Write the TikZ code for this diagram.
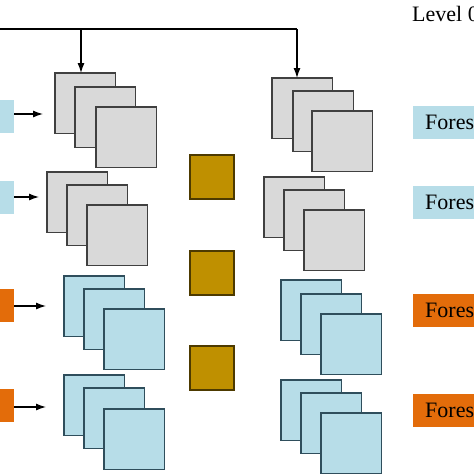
\documentclass[tikz,border=0pt]{standalone}
\usepackage{fontspec}
\setmainfont{Liberation Serif}
\usetikzlibrary{arrows.meta}
\definecolor{sqgray}{HTML}{D9D9D9}
\definecolor{sqgrayline}{HTML}{404040}
\definecolor{sqblue}{HTML}{B7DDE8}
\definecolor{sqblueline}{HTML}{2F4E5C}
\definecolor{sqgold}{HTML}{BF9000}
\definecolor{sqgoldline}{HTML}{4D3A00}
\definecolor{taborange}{HTML}{E36C0A}
\tikzset{
  sqbase/.style={rectangle, anchor=north west, inner sep=0pt, outer sep=0pt, minimum width=60.5pt, minimum height=60.5pt, line width=1.4pt},
  graysq/.style={sqbase, fill=sqgray, draw=sqgrayline},
  bluesq/.style={sqbase, fill=sqblue, draw=sqblueline},
  goldsq/.style={rectangle, anchor=north west, inner sep=0pt, outer sep=0pt, minimum width=44pt, minimum height=44pt, line width=1.4pt, fill=sqgold, draw=sqgoldline},
  tabbox/.style={rectangle, anchor=north west, inner sep=0pt, outer sep=0pt, minimum height=33pt},
  tabtext/.style={anchor=west, inner sep=0pt, font=\fontsize{22pt}{24pt}\selectfont},
  conn/.style={line width=1.2pt, black},
  arr/.style={conn, -{Latex[length=10pt,width=7pt]}}
}
\begin{document}
\begin{tikzpicture}[x=1pt,y=-1pt]
\useasboundingbox (0,0) rectangle (474,474);
\clip (0,0) rectangle (474,474);
% title
\node[anchor=south west, inner sep=0pt, font=\fontsize{22pt}{24pt}\selectfont] (title) at (412,21.5) {Level 0};
% left tabs
\node[tabbox, fill=sqblue, minimum width=24pt] (l1) at (-10,100) {};
\node[tabbox, fill=sqblue, minimum width=24pt] (l2) at (-10,181) {};
\node[tabbox, fill=taborange, minimum width=24pt] (l3) at (-10,289) {};
\node[tabbox, fill=taborange, minimum width=24pt] (l4) at (-10,389) {};
% right tabs
\node[tabbox, fill=sqblue, minimum width=90pt] (r1) at (413,106) {};
\node[tabbox, fill=sqblue, minimum width=90pt] (r2) at (413,186) {};
\node[tabbox, fill=taborange, minimum width=90pt] (r3) at (413,294) {};
\node[tabbox, fill=taborange, minimum width=90pt] (r4) at (413,393.5) {};
\node[tabtext] (t1) at (425,122.5) {Forest};
\node[tabtext] (t2) at (425,202.5) {Forest};
\node[tabtext] (t3) at (425,310.5) {Forest};
\node[tabtext] (t4) at (425,410) {Forest};
% stacks left
\node[graysq] (a1) at (55,73) {};
\node[graysq] (a2) at (75,87) {};
\node[graysq] (a3) at (96,107) {};
\node[graysq] (b1) at (47,172) {};
\node[graysq] (b2) at (67,185) {};
\node[graysq] (b3) at (87,205) {};
\node[bluesq] (c1) at (64,276) {};
\node[bluesq] (c2) at (84,289) {};
\node[bluesq] (c3) at (104,309) {};
\node[bluesq] (d1) at (64,375) {};
\node[bluesq] (d2) at (84,388) {};
\node[bluesq] (d3) at (104,409) {};
% stacks right
\node[graysq] (e1) at (272,78) {};
\node[graysq] (e2) at (293,91) {};
\node[graysq] (e3) at (312,111) {};
\node[graysq] (f1) at (264,177) {};
\node[graysq] (f2) at (284,190) {};
\node[graysq] (f3) at (304,210) {};
\node[bluesq] (g1) at (281,280) {};
\node[bluesq] (g2) at (301,294) {};
\node[bluesq] (g3) at (321,314) {};
\node[bluesq] (h1) at (281,380) {};
\node[bluesq] (h2) at (301,393) {};
\node[bluesq] (h3) at (321,413) {};
% gold squares
\node[goldsq] (m1) at (190,155) {};
\node[goldsq] (m2) at (190,251) {};
\node[goldsq] (m3) at (190,346) {};
% connectors
\coordinate (start) at (-5,29);
\coordinate (jl) at (81,29);
\coordinate (jr) at (297,29);
\draw[conn] (start) -- (jr);
\draw[arr] (jl) -- (jl |- a1.north);
\draw[arr] (jr) -- (jr |- e1.north);
\coordinate (p1) at (43,114);
\coordinate (p2) at (39,197);
\coordinate (p3) at (46,306);
\coordinate (p4) at (46,407);
\draw[arr] (l1.east |- p1) -- (p1);
\draw[arr] (l2.east |- p2) -- (p2);
\draw[arr] (l3.east |- p3) -- (p3);
\draw[arr] (l4.east |- p4) -- (p4);
\end{tikzpicture}
\end{document}
